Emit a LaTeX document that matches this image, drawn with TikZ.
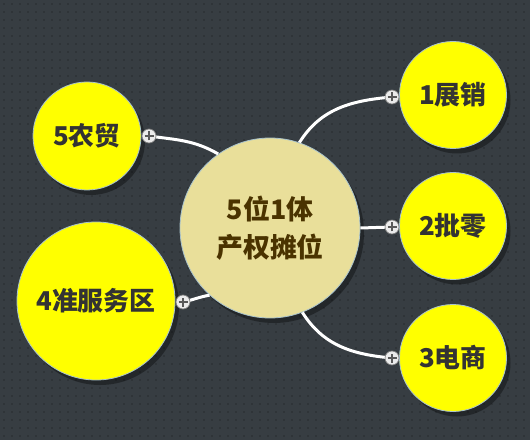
\documentclass[tikz,border=0pt]{standalone}
\usepackage{fontspec}
\usepackage{xcolor}
\newfontfamily\cjk{Noto Sans CJK SC}
\definecolor{bgdark}{HTML}{373D42}
\definecolor{bgdot}{HTML}{2F3438}
\definecolor{hubfill}{HTML}{E9DF9A}
\definecolor{hubtext}{HTML}{4A3300}
\definecolor{leafyellow}{RGB}{255,255,0}
\definecolor{leaftext}{HTML}{333333}
\definecolor{rimblue}{HTML}{A9C3CC}

\begin{document}
\begin{tikzpicture}[x=1bp,y=-1bp,
    topic/.style={circle,draw=rimblue,line width=0.8bp,inner sep=0pt,font=\cjk\bfseries\fontsize{26}{30}\selectfont},
    leaf/.style={topic,fill=leafyellow,text=leaftext},
    hub/.style={topic,fill=hubfill,text=hubtext,align=center,font=\cjk\bfseries\fontsize{27}{38}\selectfont},
    shade/.style={circle,fill=black,opacity=0.35,inner sep=0pt},
    knob/.style={circle,fill=white!92!black,draw=gray,line width=0.7bp,inner sep=0pt,minimum size=14bp},
    link/.style={draw=white,line width=3bp}]
            \fill[bgdark] (0,0) rectangle (530,440);
            \useasboundingbox (0,0) rectangle (530,440);
            \foreach \i in {0,...,66}
                \foreach \j in {0,...,55}
                    \fill[bgdot] (\i*8+3,\j*8+3) rectangle ++(2,2);

            % shadows
            \node at (274,233) [shade,minimum size=180bp] {};
            \node at (457,100) [shade,minimum size=107bp] {};
            \node at (457,231) [shade,minimum size=107bp] {};
            \node at (457,363) [shade,minimum size=107bp] {};
            \node at (91,141) [shade,minimum size=108bp] {};
            \node at (100,306) [shade,minimum size=158bp] {};

            % topics
            \node (hub) at (270,228) [hub,minimum size=180bp] {5位1体\\产权摊位};
            \node (zhan) at (453,95) [leaf,minimum size=107bp] {1展销};
            \node (pi) at (453,226) [leaf,minimum size=107bp] {2批零};
            \node (dian) at (453,358) [leaf,minimum size=107bp] {3电商};
            \node (nong) at (87,136) [leaf,minimum size=108bp] {5农贸};
            \node (zhun) at (96,301) [leaf,minimum size=158bp] {4准服务区};

            \coordinate (k1) at (392,97);
            \coordinate (k2) at (392,227);
            \coordinate (k3) at (392,358);
            \coordinate (k5) at (149,136);
            \coordinate (k4) at (183,302);

            \draw[link] (hub.71) to[out=58,in=185] (k1);
            \draw[link] (hub.east) -- (k2);
            \draw[link] (hub.-69) to[out=-58,in=175] (k3);
            \draw[link] (hub.125) to[out=150,in=-8] (k5);
            \draw[link] (hub.228) to[out=190,in=12] (k4);

            % knobs
            \foreach \k in {k1,k2,k3,k4,k5} {
                \node at (\k) [knob] {};
                \draw[gray!70!black,line width=1.4bp] ([xshift=-4.5bp]\k) -- ([xshift=4.5bp]\k)
                    ([yshift=-4.5bp]\k) -- ([yshift=4.5bp]\k);
            }

        \end{tikzpicture}
\end{document}
